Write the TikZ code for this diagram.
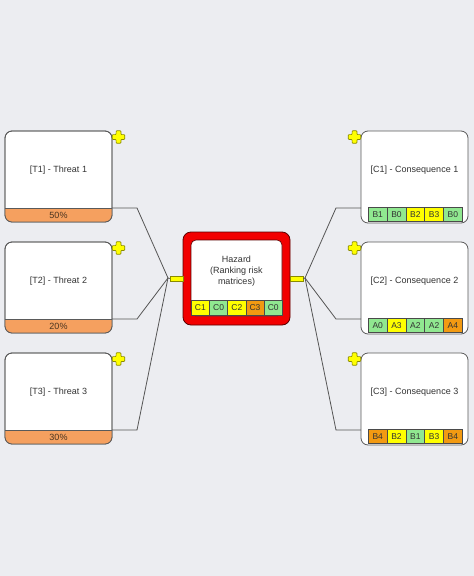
\documentclass[tikz,border=0pt]{standalone}
\usepackage{fontspec}
\setmainfont{Liberation Sans}
\definecolor{bgc}{HTML}{ECEDF1}
\definecolor{cardline}{HTML}{5A5A5A}
\definecolor{txt}{HTML}{333333}
\definecolor{pcttxt}{HTML}{4A3420}
\definecolor{barc}{HTML}{F5A05F}
\definecolor{gc}{HTML}{90E890}
\definecolor{yc}{HTML}{FFFF00}
\definecolor{oc}{HTML}{F29A12}
\definecolor{cellline}{HTML}{4A4A4A}
\definecolor{linkc}{HTML}{555555}
\definecolor{plusline}{HTML}{8A8A00}
\definecolor{redc}{HTML}{F20000}
\definecolor{redline}{HTML}{5A0000}
\tikzset{
  card/.style={draw=cardline, fill=white, rounded corners=7pt, line width=0.8pt},
  lbl/.style={font=\fontsize{9}{11}\selectfont, text=txt, align=center},
  pct/.style={font=\fontsize{9}{11}\selectfont, text=pcttxt},
  cell/.style={draw=cellline, line width=0.6pt, minimum height=14.5pt, inner sep=0pt,
     font=\fontsize{8.5}{10}\selectfont, text=txt, anchor=west},
  link/.style={draw=linkc, line width=0.8pt},
  stubbox/.style={draw=plusline, fill=yc, minimum width=13pt, minimum height=5pt, inner sep=0pt, line width=0.6pt},
  plusicon/.pic={\draw[fill=yc, draw=plusline, line width=0.7pt, rounded corners=0.8pt]
     (-2.4,-6.3) -- (2.4,-6.3) -- (2.4,-2.4) -- (6.3,-2.4) -- (6.3,2.4) -- (2.4,2.4) -- (2.4,6.3)
     -- (-2.4,6.3) -- (-2.4,2.4) -- (-6.3,2.4) -- (-6.3,-2.4) -- (-2.4,-2.4) -- cycle;}
}
\begin{document}
\begin{tikzpicture}[x=1pt,y=-1pt]
\fill[bgc] (0,0) rectangle (474,576);
\useasboundingbox (0,0) rectangle (474,576);

% ---------- threats ----------
\foreach \n/\t/\lab/\p in {1/131/{[T1] - Threat 1}/50\%, 2/242/{[T2] - Threat 2}/20\%, 3/353/{[T3] - Threat 3}/30\%}{
  \path[card] (5,\t) rectangle (112,\t+91);
  \begin{scope}
    \clip[rounded corners=7pt] (5,\t) rectangle (112,\t+91);
    \fill[barc] (5,\t+77) rectangle (112,\t+91);
  \end{scope}
  \draw[cardline, line width=0.6pt] (5,\t+77) -- (112,\t+77);
  \draw[cardline, line width=0.8pt, rounded corners=7pt] (5,\t) rectangle (112,\t+91);
  \node[inner sep=0pt, minimum width=107pt, minimum height=91pt] (t\n) at (58.5,\t+45.5) {};
  \node[lbl] (t\n lab) at (58.5,\t+39) {\lab};
  \node[pct] (t\n pct) at (58.5,\t+84) {\p};
  \coordinate (t\n o) at (112,\t+77);
  \coordinate (t\n k) at (137,\t+77);
  \pic at (118.5,\t+6) {plusicon};
}

% ---------- consequences ----------
\foreach \n/\t/\lab/\ca/\cb/\cc/\cd/\ce/\ka/\kb/\kc/\kd/\ke in {
  1/131/{[C1] - Consequence 1}/B1/B0/B2/B3/B0/gc/gc/yc/yc/gc,
  2/242/{[C2] - Consequence 2}/A0/A3/A2/A2/A4/gc/yc/gc/gc/oc,
  3/353/{[C3] - Consequence 3}/B4/B2/B1/B3/B4/oc/yc/gc/yc/oc}{
  \draw[card] (361,\t) rectangle (468,\t+92);
  \node[inner sep=0pt, minimum width=107pt, minimum height=92pt] (c\n) at (414.5,\t+46) {};
  \node[lbl] (c\n lab) at (414.5,\t+39) {\lab};
  \node[cell, fill=\ka, minimum width=18.8pt] (c\n a) at (368,\t+83.5) {\ca};
  \node[cell, fill=\kb, minimum width=18.8pt] (c\n b) at (386.8,\t+83.5) {\cb};
  \node[cell, fill=\kc, minimum width=18.8pt] (c\n c) at (405.6,\t+83.5) {\cc};
  \node[cell, fill=\kd, minimum width=18.8pt] (c\n d) at (424.4,\t+83.5) {\cd};
  \node[cell, fill=\ke, minimum width=18.8pt] (c\n e) at (443.2,\t+83.5) {\ce};
  \coordinate (c\n o) at (361,\t+77);
  \coordinate (c\n k) at (336,\t+77);
  \pic at (354.5,\t+6) {plusicon};
}

% ---------- hazard ----------
\draw[draw=redline, fill=redc, line width=0.8pt, rounded corners=8pt] (183,232) rectangle (290,325);
\node[inner sep=0pt, minimum width=107pt, minimum height=93pt] (hz) at (236.5,278.5) {};
\draw[draw=redline, fill=white, line width=0.6pt, rounded corners=5pt] (191,240) rectangle (282,316);
\node[lbl] (hzlab) at (236.5,271) {Hazard\\(Ranking risk\\matrices)};
\node[cell, fill=yc, minimum width=18.2pt] (h1) at (191,308) {C1};
\node[cell, fill=gc, minimum width=18.2pt] (h2) at (209.2,308) {C0};
\node[cell, fill=yc, minimum width=18.2pt] (h3) at (227.4,308) {C2};
\node[cell, fill=oc, minimum width=18.2pt] (h4) at (245.6,308) {C3};
\node[cell, fill=gc, minimum width=18.2pt] (h5) at (263.8,308) {C0};

% ---------- stubs and connectors ----------
\node[stubbox] (ls) at (176.5,278.5) {};
\node[stubbox] (rs) at (296.5,278.5) {};
\coordinate (lfan) at (168,278);
\coordinate (rfan) at (305,278);

\foreach \n in {1,2,3}{
  \draw[link] (t\n o) -- (t\n k) -- (lfan);
  \draw[link] (c\n o) -- (c\n k) -- (rfan);
}
\draw[link] (lfan) -- (ls.west);
\draw[link] (rfan) -- (rs.east);
\end{tikzpicture}
\end{document}
